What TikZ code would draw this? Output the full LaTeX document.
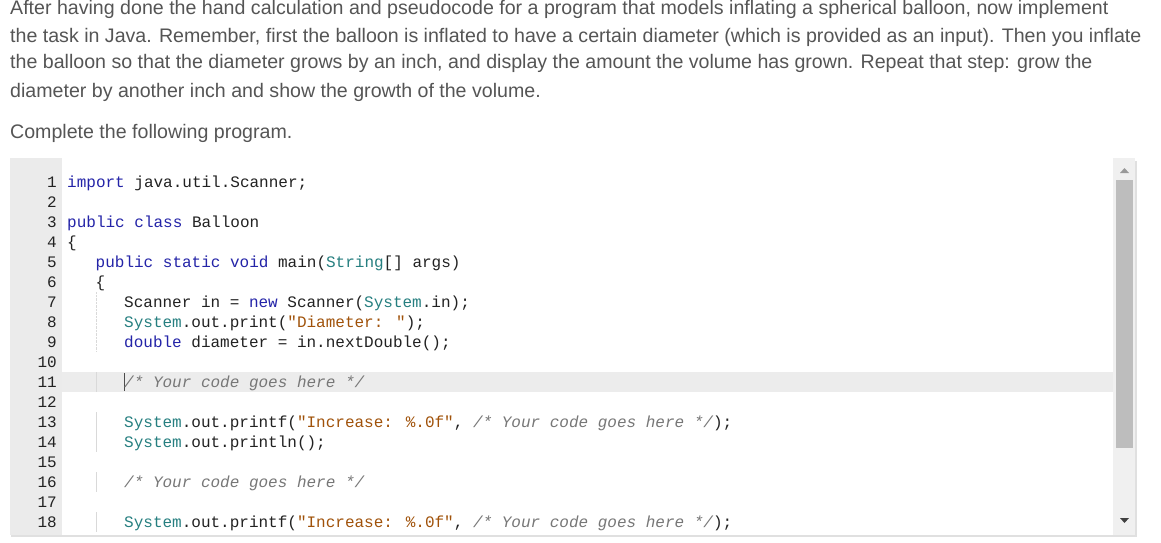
\documentclass[tikz,border=0pt]{standalone}
\usepackage{fontspec}
\setmainfont{Liberation Sans}
\newfontfamily\codefont{Liberation Mono}
\definecolor{txt}{HTML}{555555}
\definecolor{kwc}{HTML}{2424A8}
\definecolor{tyc}{HTML}{267F80}
\definecolor{stc}{HTML}{A0520A}
\definecolor{cmc}{HTML}{777777}
\definecolor{idc}{HTML}{222222}
\newcommand{\kw}[1]{\textcolor{kwc}{#1}}
\newcommand{\ty}[1]{\textcolor{tyc}{#1}}
\newcommand{\st}[1]{\textcolor{stc}{#1}}
\newcommand{\cm}[1]{\textcolor{cmc}{\itshape #1}}
\tikzset{
  para/.style={anchor=base west,inner sep=0pt,text=txt,font=\fontsize{19.6}{21}\selectfont},
  code/.style={anchor=base west,inner sep=0pt,text=idc,font=\codefont\fontsize{16}{18}\selectfont},
  lnum/.style={anchor=base east,inner sep=0pt,text=idc,font=\codefont\fontsize{16}{18}\selectfont},
}
\begin{document}
\begin{tikzpicture}[x=1pt,y=-1pt]
\useasboundingbox[fill=white] (0,0) rectangle (1161,543);
% text
\node[para] (p1) at (10,15) {After having done the hand calculation and pseudocode for a program that models inflating a spherical balloon, now implement};
\node[para] (p2) at (10,42) {the task in Java. Remember, first the balloon is inflated to have a certain diameter (which is provided as an input). Then you inflate};
\node[para] (p3) at (10,69) {the balloon so that the diameter grows by an inch, and display the amount the volume has grown. Repeat that step: grow the};
\node[para] (p4) at (10,97) {diameter by another inch and show the growth of the volume.};
\node[para] (p5) at (10,138) {Complete the following program.};
% editor
\fill[black!12] (11,161) rectangle (1137,537);
\fill[white] (10,158) rectangle (1135,535);
\fill[black!8] (10,158) rectangle (62,535);
\fill[black!7.5] (62,372) rectangle (1113,392);
\fill[black!6] (1113,158) rectangle (1135,535);
\fill[black!26] (1116,180) rectangle (1133,448);
\fill[black!40] (1120,173) -- (1129,173) -- (1124.5,168) -- cycle;
\fill[black!75] (1120,518) -- (1129,518) -- (1124.5,523) -- cycle;
\draw[black!15,densely dotted] (96,292) -- (96,352);
\draw[black!15] (96,372) -- (96,392);
\draw[black!15] (96,412) -- (96,452);
\draw[black!15] (96,472) -- (96,492);
\draw[black!15] (96,512) -- (96,532);
\draw[black!70] (124,373) -- (124,391);
\foreach \n in {1,...,18}{
  \node[lnum] (n\n) at (57,{187+20*(\n-1)}) {\n};
}
\node[code] (c1) at (67,187) {\kw{import} java.util.Scanner;};
\node[code] (c3) at (67,227) {\kw{public} \kw{class} Balloon};
\node[code] (c4) at (67,247) {\{};
\node[code] (c5) at (95.5,267) {\kw{public} \kw{static} \kw{void} main(\ty{String}[] args)};
\node[code] (c6) at (95.5,287) {\{};
\node[code] (c7) at (124,307) {Scanner in = \kw{new} Scanner(\ty{System}.in);};
\node[code] (c8) at (124,327) {\ty{System}.out.print(\st{"Diameter: "});};
\node[code] (c9) at (124,347) {\kw{double} diameter = in.nextDouble();};
\node[code] (c11) at (124,387) {\cm{/* Your code goes here */}};
\node[code] (c13) at (124,427) {\ty{System}.out.printf(\st{"Increase: \%.0f"}, \cm{/* Your code goes here */});};
\node[code] (c14) at (124,447) {\ty{System}.out.println();};
\node[code] (c16) at (124,487) {\cm{/* Your code goes here */}};
\node[code] (c18) at (124,527) {\ty{System}.out.printf(\st{"Increase: \%.0f"}, \cm{/* Your code goes here */});};
\end{tikzpicture}
\end{document}
